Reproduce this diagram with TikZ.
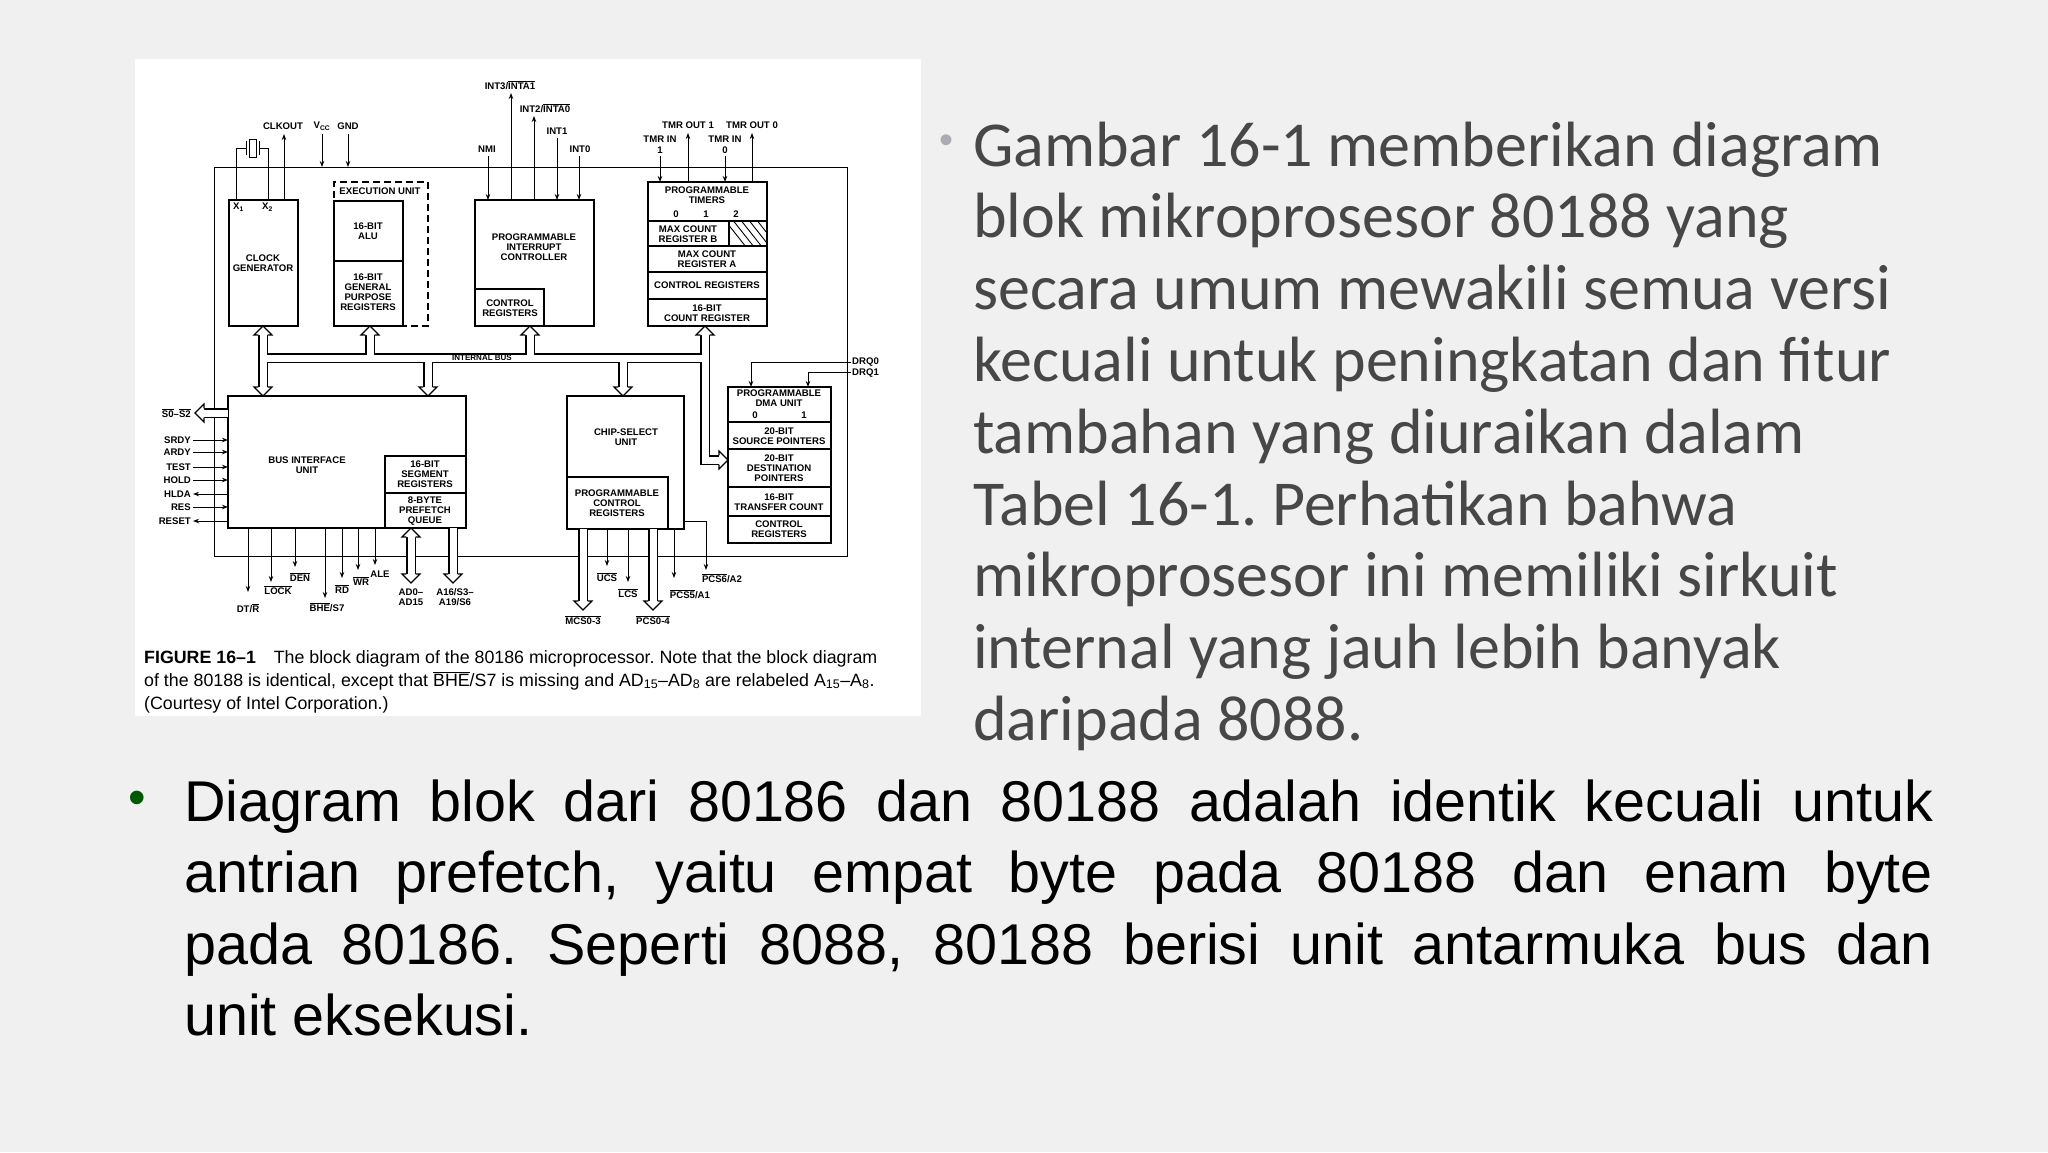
\documentclass[tikz,border=0pt]{standalone}
\usepackage{fontspec}
\setmainfont{Liberation Sans}
\newfontfamily\slidefont{Carlito}
\usetikzlibrary{arrows.meta}
\frenchspacing
\newcommand{\dfont}{\fontsize{9.6}{10}\selectfont\bfseries}
\newcommand{\ol}[1]{$\overline{\mbox{#1}}$}
\newcommand{\bhead}[3]{\begin{scope}[shift={(#1,#2)},rotate=#3]
 \fill[white] (-9,9)--(0,0)--(9,9)--cycle;
 \draw[line width=1.2pt,line join=miter] (-4.7,9)--(-9,9)--(0,0)--(9,9)--(4.7,9);\end{scope}}
\begin{document}
\begin{tikzpicture}[x=1pt,y=-1pt,
 blk/.style={draw,line width=1.2pt},
 dt/.style={font=\dfont,align=center,inner sep=0pt},
 sig/.style={line width=1pt,-{Stealth[length=6pt,width=4.5pt]}},
 sigr/.style={line width=1pt,{Stealth[length=6pt,width=4.5pt]}-},
 bus/.style={double=white,double distance=7pt,line width=1.2pt},
 body/.style={anchor=base west,inner sep=0pt,font=\slidefont\fontsize{64}{72}\selectfont,text=black!72},
 bot/.style={anchor=base west,inner sep=0pt,font=\fontsize{57.5}{72}\selectfont,text=black}]
\useasboundingbox (0,0) rectangle (2048,1152);
\fill[black!6] (0,0) rectangle (2048,1152);
\fill[white] (135,59) rectangle (921,716);
% outer chip
\draw[line width=1pt] (214,167) rectangle (847,556);
% clock generator
\draw[blk,fill=white] (229,200) rectangle (298,326);
\node[dt] (clk) at (263,263) {CLOCK\\GENERATOR};
\node[dt,anchor=north west] at (233,203) {X\textsubscript{1}};
\node[dt,anchor=north west] at (262,203) {X\textsubscript{2}};
\draw[line width=1pt] (236,200)--(236,148)--(246,148) (259,148)--(268,148)--(268,200);
\draw[line width=1pt] (246,141)--(246,155) (259,141)--(259,155) (249,139) rectangle (256,157);
\draw[sig] (284,200)--(284,134);
\node[dt] (clkout) at (283,126) {CLKOUT};
\node[dt] (vcc) at (322,126) {V\textsubscript{CC}};
\node[dt] (gnd) at (348,126) {GND};
\draw[sig] (322,134)--(322,167);
\draw[sig] (348,134)--(348,167);
% execution unit
\draw[line width=1.2pt,dashed,dash pattern=on 7pt off 4pt] (334,326)--(428,326)--(428,182)--(334,182)--(334,201);
\node[dt] at (380,191) {EXECUTION UNIT};
\draw[blk] (334,201) rectangle (403,326) (334,261)--(403,261);
\node[dt] at (368,231) {16-BIT\\ALU};
\node[dt] at (368,292) {16-BIT\\GENERAL\\PURPOSE\\REGISTERS};
% PIC
\draw[blk] (475,200) rectangle (594,326) (475,289)--(544,289)--(544,326);
\node[dt] (pic) at (534,247) {PROGRAMMABLE\\INTERRUPT\\CONTROLLER};
\node[dt] at (510,308) {CONTROL\\REGISTERS};
\node[dt] at (487,149) {NMI};
\draw[sig] (488,156)--(488,200);
\draw[sig] (511,200)--(511,93);
\node[dt] at (510,85) {INT3/\ol{INTA1}};
\draw[sig] (534,200)--(534,116);
\node[dt] at (545,108) {INT2/\ol{INTA0}};
\node[dt] at (557,131) {INT1};
\draw[sig] (557,138)--(557,200);
\node[dt] at (580,149) {INT0};
\draw[sig] (579,156)--(579,200);
% timers
\draw[blk] (648,182) rectangle (767,326);
\foreach \yy in {221,246,272,299} \draw[line width=1.1pt] (648,\yy)--(767,\yy);
\draw[line width=1.1pt] (729,221)--(729,246);
\begin{scope}\clip (729,221) rectangle (767,246);
\foreach \k in {0,8,...,64} \draw[line width=0.9pt] (720+\k,214)--(750+\k,252);\end{scope}
\node[dt] at (707,195) {PROGRAMMABLE\\TIMERS};
\node[dt] at (676,214) {0};\node[dt] at (706,214) {1};\node[dt] at (736,214) {2};
\node[dt] at (688,234) {MAX COUNT\\REGISTER B};
\node[dt] at (707,259) {MAX COUNT\\REGISTER A};
\node[dt] at (707,285) {CONTROL REGISTERS};
\node[dt] at (707,313) {16-BIT\\COUNT REGISTER};
\node[dt] at (660,139) {TMR IN}; \node[dt] at (660,150) {1};
\node[dt] at (725,139) {TMR IN}; \node[dt] at (725,150) {0};
\node[dt] at (688,125) {TMR OUT 1}; \node[dt] at (752,125) {TMR OUT 0};
\draw[sig] (660,156)--(660,182);
\draw[sig] (725,156)--(725,182);
\draw[sig] (688,182)--(688,133);
\draw[sig] (752,182)--(752,133);
% DMA
\draw[blk] (728,387) rectangle (831,543);
\foreach \yy in {422,449,487,516} \draw[line width=1.1pt] (728,\yy)--(831,\yy);
\node[dt] at (779,398) {PROGRAMMABLE\\DMA UNIT};
\node[dt] at (755,415) {0};\node[dt] at (804,415) {1};
\node[dt] at (779,436) {20-BIT\\SOURCE POINTERS};
\node[dt] at (779,468) {20-BIT\\DESTINATION\\POINTERS};
\node[dt] at (779,502) {16-BIT\\TRANSFER COUNT};
\node[dt] at (779,529) {CONTROL\\REGISTERS};
\node[dt,anchor=west] at (852,362) {DRQ0};
\node[dt,anchor=west] at (852,373) {DRQ1};
\draw[sig] (851,362)--(751,362)--(751,387);
\draw[sig] (851,372)--(808,372)--(808,387);
% BIU
\draw[blk,fill=white] (228,396) rectangle (466,528);
\draw[blk] (385,528)--(385,456)--(466,456) (385,493)--(466,493);
\node[dt] at (307,465) {BUS INTERFACE\\UNIT};
\node[dt] at (425,474) {16-BIT\\SEGMENT\\REGISTERS};
\node[dt] at (425,511) {8-BYTE\\PREFETCH\\QUEUE};
\foreach \yy/\nm/\d in {440/SRDY/sig,452/ARDY/sig,467/TEST/sig,480/HOLD/sig,494/HLDA/sigr,507/RES/sig,521/RESET/sigr}{
 \node[dt,anchor=east] at (191,\yy) {\nm};
 \draw[\d] (193,\yy)--(228,\yy);}
\node[dt,anchor=east] at (191,413) {\ol{S0}--\ol{S2}};
% BIU bottom
\draw[sig] (248,528)--(248,592); \node[dt] at (248,608) {DT/\ol{R}};
\draw[sig] (271,528)--(271,582); \node[dt] at (278,590) {\ol{LOCK}};
\draw[sig] (295,528)--(295,567); \node[dt] at (300,577) {\ol{DEN}};
\draw[sig] (325,528)--(325,598); \node[dt] at (327,607) {\ol{BHE}/S7};
\draw[sig] (342,528)--(342,578); \node[dt] at (342,589) {\ol{RD}};
\draw[sig] (358,528)--(358,570); \node[dt] at (361,581) {\ol{WR}};
\draw[sig] (375,528)--(375,565); \node[dt] at (380,574) {ALE};
\node[dt] at (411,597) {AD0–\\AD15};
\node[dt] at (455,597) {A16/S3–\\A19/S6};
% chip select
\draw[blk,fill=white] (567,396) rectangle (684,529);
\draw[blk] (567,477)--(668,477)--(668,529);
\node[dt] at (626,437) {CHIP-SELECT\\UNIT};
\node[dt] at (617,503) {PROGRAMMABLE\\CONTROL\\REGISTERS};
\draw[sig] (607,529)--(607,566); \node[dt] at (607,577) {\ol{UCS}};
\draw[sig] (628,529)--(628,582); \node[dt] at (628,593) {\ol{LCS}};
\draw[sig] (674,529)--(674,578); \node[dt] at (690,594) {\ol{PCS5}/A1};
\draw[sig] (684,521)--(706,521)--(706,570); \node[dt] at (722,578) {\ol{PCS6}/A2};
\node[dt] at (583,620) {\ol{MCS0-3}};
\node[dt] at (653,620) {\ol{PCS0-4}};
% internal bus
\draw[bus] (263,335)--(263,387) (263,358)--(705,358) (370,335)--(370,358)
 (428,358)--(428,387) (530,335)--(530,358) (623,358)--(623,387)
 (705,335)--(705,460)--(719,460);
\node[dt,font=\fontsize{8}{8}\selectfont\bfseries] at (482,358) {INTERNAL BUS};
\bhead{263}{326}{0}\bhead{370}{326}{0}\bhead{530}{326}{0}\bhead{705}{326}{0}
\bhead{263}{396}{180}\bhead{428}{396}{180}\bhead{623}{396}{180}\bhead{728}{460}{-90}
% external buses
\draw[bus] (204,413)--(228,413);\bhead{195}{413}{90}
\draw[bus] (411,537)--(411,574);\bhead{411}{528}{0}\bhead{411}{583}{180}
\draw[bus] (453,528)--(453,574);\bhead{453}{583}{180}
\draw[bus] (583,529)--(583,601);\bhead{583}{610}{180}
\draw[bus] (653,529)--(653,601);\bhead{653}{610}{180}
% caption
\node[anchor=base west,inner sep=0,font=\fontsize{17.8}{23}\selectfont,align=left] (cap) at (144,663)
 {\textbf{FIGURE 16–1}\quad The block diagram of the 80186 microprocessor. Note that the block diagram};
\node[anchor=base west,inner sep=0,font=\fontsize{17.8}{23}\selectfont] at (144,686)
 {of the 80188 is identical, except that \ol{BHE}/S7 is missing and AD\textsubscript{15}–AD\textsubscript{8} are relabeled A\textsubscript{15}–A\textsubscript{8}.};
\node[anchor=base west,inner sep=0,font=\fontsize{17.8}{23}\selectfont] at (144,709)
 {(Courtesy of Intel Corporation.)};
% right text
\node[text=black!30!blue!10!gray!60,font=\fontsize{40}{40}\selectfont] at (946,144) {•};
\foreach \t [count=\i from 0] in {Gambar 16-1 memberikan diagram,blok mikroprosesor 80188 yang,secara umum mewakili semua versi,kecuali untuk peningkatan dan fitur,tambahan yang diuraikan dalam,Tabel 16-1. Perhatikan bahwa,mikroprosesor ini memiliki sirkuit,internal yang jauh lebih banyak,daripada 8088.}
 \node[body] at (973,166+71.8*\i) {\t};
% bottom text
\node[text=green!35!black,font=\fontsize{50}{50}\selectfont] at (137,803) {•};
\node[bot] at (184,821) {\makebox[1749pt][s]{Diagram blok dari 80186 dan 80188 adalah identik kecuali untuk}};
\node[bot] at (184,892) {\makebox[1749pt][s]{antrian prefetch, yaitu empat byte pada 80188 dan enam byte}};
\node[bot] at (184,964) {\makebox[1749pt][s]{pada 80186. Seperti 8088, 80188 berisi unit antarmuka bus dan}};
\node[bot] at (184,1035) {unit eksekusi.};
\end{tikzpicture}
\end{document}
